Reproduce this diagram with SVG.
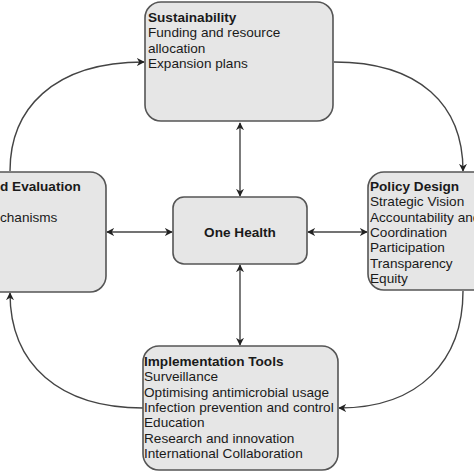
<svg xmlns="http://www.w3.org/2000/svg" width="474" height="474" viewBox="0 0 474 474">
<style>
.box{fill:#e6e6e6;stroke:#555;stroke-width:1.6}
.t{font-family:"Liberation Sans",Arial,sans-serif;font-size:13.6px;fill:#1a1a1a}
.b{font-weight:bold}
.c{fill:none;stroke:#444;stroke-width:1.4}
</style>
<defs>
<marker id="ah" viewBox="0 0 10 10" refX="9" refY="5" markerWidth="8" markerHeight="8" orient="auto-start-reverse" markerUnits="userSpaceOnUse">
<path d="M0,0 L10,5 L0,10 L3,5 z" fill="#222"/>
</marker>
</defs>
<rect width="474" height="474" fill="#fff"/>
<g id="connectors">
<line class="c" x1="240" y1="123" x2="240" y2="196" marker-start="url(#ah)" marker-end="url(#ah)"/>
<line class="c" x1="240" y1="265" x2="240" y2="345" marker-start="url(#ah)" marker-end="url(#ah)"/>
<line class="c" x1="107" y1="232" x2="172" y2="232" marker-start="url(#ah)" marker-end="url(#ah)"/>
<line class="c" x1="308" y1="232" x2="367" y2="232" marker-start="url(#ah)" marker-end="url(#ah)"/>
<path class="c" d="M10,171 C10,110 52,62 144,62" marker-end="url(#ah)"/>
<path class="c" d="M334,62 C420,62 463,105 463,171" marker-end="url(#ah)"/>
<path class="c" d="M463,291 C463,360 420,408 339,408" marker-end="url(#ah)"/>
<path class="c" d="M143,408 C60,408 10,365 10,293" marker-end="url(#ah)"/>
</g>
<g id="sustainability">
<rect class="box" x="145" y="2" width="188" height="119" rx="16"/>
<text class="t" x="148" y="22"><tspan class="b">Sustainability</tspan><tspan x="148" dy="15.3">Funding and resource</tspan><tspan x="148" dy="15.3">allocation</tspan><tspan x="148" dy="15.3">Expansion plans</tspan></text>
</g>
<g id="monitoring">
<rect class="box" x="-20" y="172" width="126" height="120" rx="16"/>
<text class="t b" x="0" y="191">d Evaluation</text>
<text class="t" x="0" y="222">chanisms</text>
</g>
<g id="one-health">
<rect class="box" x="173" y="197" width="134" height="67" rx="11"/>
<text class="t b" x="240" y="237" text-anchor="middle">One Health</text>
</g>
<g id="policy">
<rect class="box" x="368" y="172" width="130" height="118" rx="16"/>
<text class="t" x="370" y="191"><tspan class="b">Policy Design</tspan><tspan x="370" dy="15.3">Strategic Vision</tspan><tspan x="370" dy="15.3">Accountability and</tspan><tspan x="370" dy="15.3">Coordination</tspan><tspan x="370" dy="15.3">Participation</tspan><tspan x="370" dy="15.3">Transparency</tspan><tspan x="370" dy="15.3">Equity</tspan></text>
</g>
<g id="implementation">
<rect class="box" x="143" y="346" width="195" height="124" rx="16"/>
<text class="t" x="144" y="366"><tspan class="b">Implementation Tools</tspan><tspan x="144" dy="15.3">Surveillance</tspan><tspan x="144" dy="15.3">Optimising antimicrobial usage</tspan><tspan x="144" dy="15.3">Infection prevention and control</tspan><tspan x="144" dy="15.3">Education</tspan><tspan x="144" dy="15.3">Research and innovation</tspan><tspan x="144" dy="15.3">International Collaboration</tspan></text>
</g>
</svg>
